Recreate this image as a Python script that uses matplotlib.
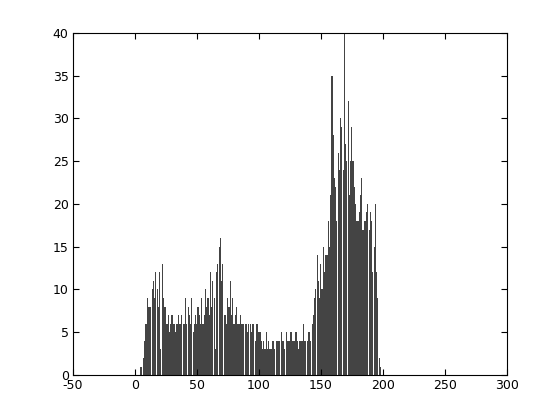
import numpy as np
import matplotlib
matplotlib.use("Agg")
import matplotlib.pyplot as plt
plt.rcParams['axes.unicode_minus'] = False

counts = [0,0,0,0,0,1,0,2,4,6,9,8,8,8,10,11,9,12,10,8,12,3,13,9,8,8,6,7,5,6,
          7,6,6,5,6,7,6,6,7,6,
          6,9,6,8,7,6,9,5,6,7,6,8,7,6,9,6,7,10,8,9,
          7,12,8,11,9,3,12,13,15,16,11,13,7,7,6,9,8,11,7,9,
          6,7,8,6,6,7,6,6,6,6,6,5,6,6,5,6,6,4,6,6,
          5,5,4,3,4,3,5,3,4,3,3,4,4,3,4,4,4,4,5,4,
          4,3,5,4,4,4,5,4,4,4,5,4,3,4,4,4,6,4,4,4,
          5,5,4,6,7,9,10,14,11,9,13,10,15,12,14,14,18,15,21,35,
          28,23,22,18,26,24,30,29,24,40,27,25,32,21,25,29,25,22,20,
          18,18,19,21,23,17,18,18,19,20,17,19,18,12,15,20,12,9,2,1,0]
values = np.arange(len(counts))

fig = plt.figure(figsize=(5.6, 4.2), dpi=100)
ax = fig.add_axes([0.13, 0.107, 0.775, 0.815])
ax.bar(values, counts, width=0.9, color='#444444', edgecolor='none',
       antialiased=False)
ax.set_xlim(-50, 300)
ax.set_ylim(0, 40)
ax.set_xticks(range(-50, 301, 50))
ax.set_yticks(range(0, 41, 5))
ax.tick_params(direction='in', labelsize=9, top=True, right=True, length=4, pad=3)
fig.savefig("out.png")
